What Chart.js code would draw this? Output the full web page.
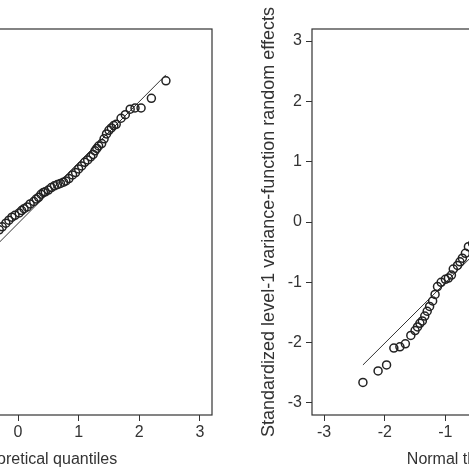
<!DOCTYPE html><html><head><script src="https://cdn.jsdelivr.net/npm/chart.js@4"></script>
<style>body{margin:0;width:469px;height:469px;overflow:hidden;position:relative;background:#fff}
.c{position:absolute;top:0}</style></head><body>
<div class="c" style="left:-290px;width:520px;height:469px"><canvas id="a"></canvas></div>
<div class="c" style="left:240px;width:500px;height:469px"><canvas id="b"></canvas></div>
<script>
const ticks=[-3,-2,-1,0,1,2,3];
const leftX=[-2.3,-1.8,-1.3,-0.9,-0.6,-0.45,-0.38,-0.31,-0.26,-0.2,-0.15,-0.1,-0.05,0.02,0.06,0.1,0.15,0.2,0.26,0.3,0.34,0.38,0.42,0.45,0.5,0.55,0.6,0.65,0.7,0.75,0.79,0.84,0.9,0.95,1.0,1.05,1.1,1.15,1.2,1.24,1.27,1.3,1.33,1.38,1.42,1.46,1.5,1.54,1.58,1.62,1.7,1.77,1.85,1.93,2.03,2.2,2.44];
const leftY=[-2.5,-1.9,-1.35,-0.95,-0.6,-0.4,-0.25,-0.13,-0.08,-0.02,0.03,0.08,0.11,0.15,0.19,0.22,0.25,0.3,0.34,0.38,0.41,0.46,0.49,0.5,0.53,0.57,0.6,0.62,0.64,0.66,0.68,0.72,0.78,0.82,0.88,0.93,0.99,1.03,1.08,1.12,1.18,1.22,1.26,1.3,1.38,1.46,1.52,1.56,1.6,1.62,1.72,1.78,1.87,1.89,1.89,2.05,2.34];
const leftLineX=[-2.4,2.44];const leftLineY=[-2.45,2.44];
const rightX=[-2.36,-2.11,-1.97,-1.85,-1.75,-1.66,-1.57,-1.5,-1.46,-1.42,-1.38,-1.34,-1.3,-1.26,-1.21,-1.17,-1.13,-1.07,-1.0,-0.95,-0.9,-0.87,-0.8,-0.76,-0.72,-0.67,-0.62,-0.55,-0.4,0,0.5,1.0,1.5,2.0,2.36];
const rightY=[-2.66,-2.47,-2.37,-2.09,-2.07,-2.02,-1.88,-1.8,-1.74,-1.68,-1.64,-1.56,-1.48,-1.4,-1.31,-1.2,-1.07,-1.0,-0.95,-0.93,-0.88,-0.78,-0.72,-0.66,-0.6,-0.52,-0.41,-0.36,-0.2,0.05,0.5,1.0,1.5,2.0,2.3];
const rightLineX=[-2.36,2.4];const rightLineY=[-2.37,2.4];
const pts=(xs,ys)=>xs.map((x,i)=>({x,y:ys[i]}));
const box={id:'box',afterDraw(c){const a=c.chartArea,g=c.ctx;g.save();g.strokeStyle='#333';g.lineWidth=1.2;g.strokeRect(a.left,a.top,a.right-a.left,a.bottom-a.top);g.restore();}};
function mk(id,xs,ys,lx,ly,yw,rp,ytitle,xtitle){
 new Chart(document.getElementById(id),{type:'scatter',plugins:[box],
 data:{datasets:[{data:pts(xs,ys),pointRadius:4,borderColor:'#222',backgroundColor:'rgba(0,0,0,0)',borderWidth:1.5},
 {type:'line',data:pts(lx,ly),borderColor:'#333',borderWidth:1,pointRadius:0,fill:false}]},
 options:{responsive:true,maintainAspectRatio:false,animation:false,layout:{padding:{top:29,right:rp}},
 plugins:{legend:{display:false},tooltip:{enabled:false}},
 scales:{x:{type:'linear',min:-3.2,max:3.2,afterBuildTicks(s){s.ticks=ticks.map(v=>({value:v}))},afterFit(s){s.height=54},
  grid:{drawOnChartArea:false,tickLength:6,color:'#333'},border:{display:false},
  ticks:{color:'#333',font:{family:'Liberation Sans',size:16},padding:2},
  title:{display:true,text:xtitle,color:'#333',font:{family:'Liberation Sans',size:16},padding:0}},
 y:{min:-3.2,max:3.2,afterBuildTicks(s){s.ticks=ticks.map(v=>({value:v}))},afterFit(s){s.width=yw},
  grid:{drawOnChartArea:false,tickLength:6,color:'#333'},border:{display:false},
  ticks:{color:'#333',font:{family:'Liberation Sans',size:16},padding:4},
  title:{display:true,text:ytitle,color:'#333',font:{family:'Liberation Sans',size:18},padding:{top:18,bottom:0}}}}}});
}
mk('a',leftX,leftY,leftLineX,leftLineY,114,18,'Standardized level-1 mean-function random effects','Normal theoretical quantiles');
mk('b',rightX,rightY,rightLineX,rightLineY,72,40,'Standardized level-1 variance-function random effects','Normal theoretical quantiles');
</script></body></html>
